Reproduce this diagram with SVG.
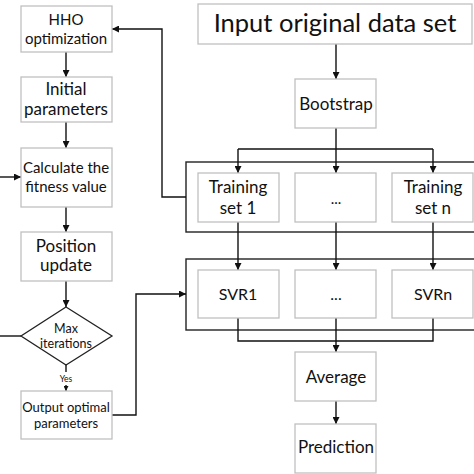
<svg xmlns="http://www.w3.org/2000/svg" width="474" height="474" viewBox="0 0 474 474">
<style>
.box{fill:#fff;stroke:#c0c0c0;stroke-width:1.3}
.grp{fill:none;stroke:#222;stroke-width:1.4}
.ln{fill:none;stroke:#111;stroke-width:1.4}
text{font-family:Lato,"Open Sans",sans-serif;fill:#111;text-anchor:middle}
.s15{font-size:15px}
.s16{font-size:16px}
.s17{font-size:17px}
</style>
<defs>
<marker id="ah" viewBox="0 0 10 10" refX="10" refY="5" markerWidth="7" markerHeight="7" markerUnits="userSpaceOnUse" orient="auto"><path d="M0,0L10,5L0,10z" fill="#111"/></marker>
<marker id="ahs" viewBox="0 0 10 10" refX="10" refY="5" markerWidth="5" markerHeight="5" markerUnits="userSpaceOnUse" orient="auto"><path d="M0,0L10,5L0,10z" fill="#111"/></marker>
</defs>
<rect width="474" height="474" fill="#fff"/>
<g id="groups">
<rect class="grp" x="186" y="162" width="300" height="70"/>
<rect class="grp" x="186" y="259" width="300" height="71"/>
</g>
<g id="connectors">
<line class="ln" x1="66" y1="52" x2="66" y2="77" marker-end="url(#ah)"/>
<line class="ln" x1="66" y1="122" x2="66" y2="148" marker-end="url(#ah)"/>
<line class="ln" x1="0" y1="177" x2="21" y2="177" marker-end="url(#ah)"/>
<line class="ln" x1="66" y1="207" x2="66" y2="232" marker-end="url(#ah)"/>
<line class="ln" x1="66" y1="281" x2="66" y2="307" marker-end="url(#ah)"/>
<line class="ln" x1="0" y1="336" x2="21" y2="336"/>
<line class="ln" x1="66" y1="365" x2="66" y2="372"/>
<line class="ln" x1="66" y1="385" x2="66" y2="391" marker-end="url(#ahs)"/>
<polyline class="ln" points="112,415 136,415 136,294 186,294" marker-end="url(#ah)"/>
<polyline class="ln" points="186,197 162,197 162,29 112,29" marker-end="url(#ah)"/>
<line class="ln" x1="336" y1="44" x2="336" y2="79" marker-end="url(#ah)"/>
<line class="ln" x1="336" y1="128" x2="336" y2="149"/>
<line class="ln" x1="238" y1="149" x2="433" y2="149"/>
<line class="ln" x1="238" y1="149" x2="238" y2="173" marker-end="url(#ah)"/>
<line class="ln" x1="336" y1="149" x2="336" y2="173" marker-end="url(#ah)"/>
<line class="ln" x1="433" y1="149" x2="433" y2="173" marker-end="url(#ah)"/>
<line class="ln" x1="238" y1="222" x2="238" y2="270" marker-end="url(#ah)"/>
<line class="ln" x1="336" y1="222" x2="336" y2="270" marker-end="url(#ah)"/>
<line class="ln" x1="433" y1="222" x2="433" y2="270" marker-end="url(#ah)"/>
<polyline class="ln" points="238,318 238,341 433,341 433,318"/>
<line class="ln" x1="336" y1="318" x2="336" y2="352" marker-end="url(#ah)"/>
<line class="ln" x1="336" y1="401" x2="336" y2="424" marker-end="url(#ah)"/>
</g>
<g id="hho"><rect class="box" x="21" y="6" width="91" height="46"/><text class="s15" x="66" y="25">HHO</text><text class="s15" x="66" y="44">optimization</text></g>
<g id="initial"><rect class="box" x="21" y="77" width="91" height="45"/><text class="s17" x="66" y="95">Initial</text><text class="s17" x="66" y="115">parameters</text></g>
<g id="fitness"><rect class="box" x="21" y="148" width="91" height="59"/><text class="s15" x="66" y="173">Calculate the</text><text class="s15" x="66" y="192">fitness value</text></g>
<g id="position"><rect class="box" x="21" y="232" width="91" height="49"/><text class="s17" x="66" y="252">Position</text><text class="s17" x="66" y="271">update</text></g>
<g id="maxiter"><polygon points="66,307 112,336 66,365 21,336" fill="#fff" stroke="#222" stroke-width="1.3"/><text style="font-size:12.5px" x="66" y="333">Max</text><text style="font-size:12.5px" x="66" y="348">iterations</text></g>
<text style="font-size:8.5px" x="66" y="382">Yes</text>
<g id="output"><rect class="box" x="21" y="391" width="91" height="48"/><text style="font-size:13px" x="66" y="412">Output optimal</text><text style="font-size:13px" x="66" y="428">parameters</text></g>
<g id="input"><rect class="box" x="198" y="4" width="274" height="40"/><text style="font-size:25.5px" x="335" y="32">Input original data set</text></g>
<g id="bootstrap"><rect class="box" x="295" y="79" width="81" height="49"/><text style="font-size:17px" x="336" y="110">Bootstrap</text></g>
<g id="train1"><rect class="box" x="198" y="173" width="81" height="49"/><text class="s17" x="238" y="193">Training</text><text class="s17" x="238" y="214">set 1</text></g>
<g id="train2"><rect class="box" x="295" y="173" width="81" height="49"/><text class="s15" x="336" y="204">...</text></g>
<g id="trainn"><rect class="box" x="392" y="173" width="81" height="49"/><text class="s17" x="433" y="193">Training</text><text class="s17" x="433" y="214">set n</text></g>
<g id="svr1"><rect class="box" x="198" y="270" width="81" height="48"/><text class="s16" x="238" y="300">SVR1</text></g>
<g id="svr2"><rect class="box" x="295" y="270" width="81" height="48"/><text class="s16" x="336" y="300">...</text></g>
<g id="svrn"><rect class="box" x="392" y="270" width="81" height="48"/><text class="s16" x="433" y="300">SVRn</text></g>
<g id="average"><rect class="box" x="295" y="352" width="81" height="49"/><text class="s17" x="336" y="383">Average</text></g>
<g id="prediction"><rect class="box" x="295" y="424" width="81" height="49"/><text class="s17" x="336" y="453">Prediction</text></g>
</svg>
